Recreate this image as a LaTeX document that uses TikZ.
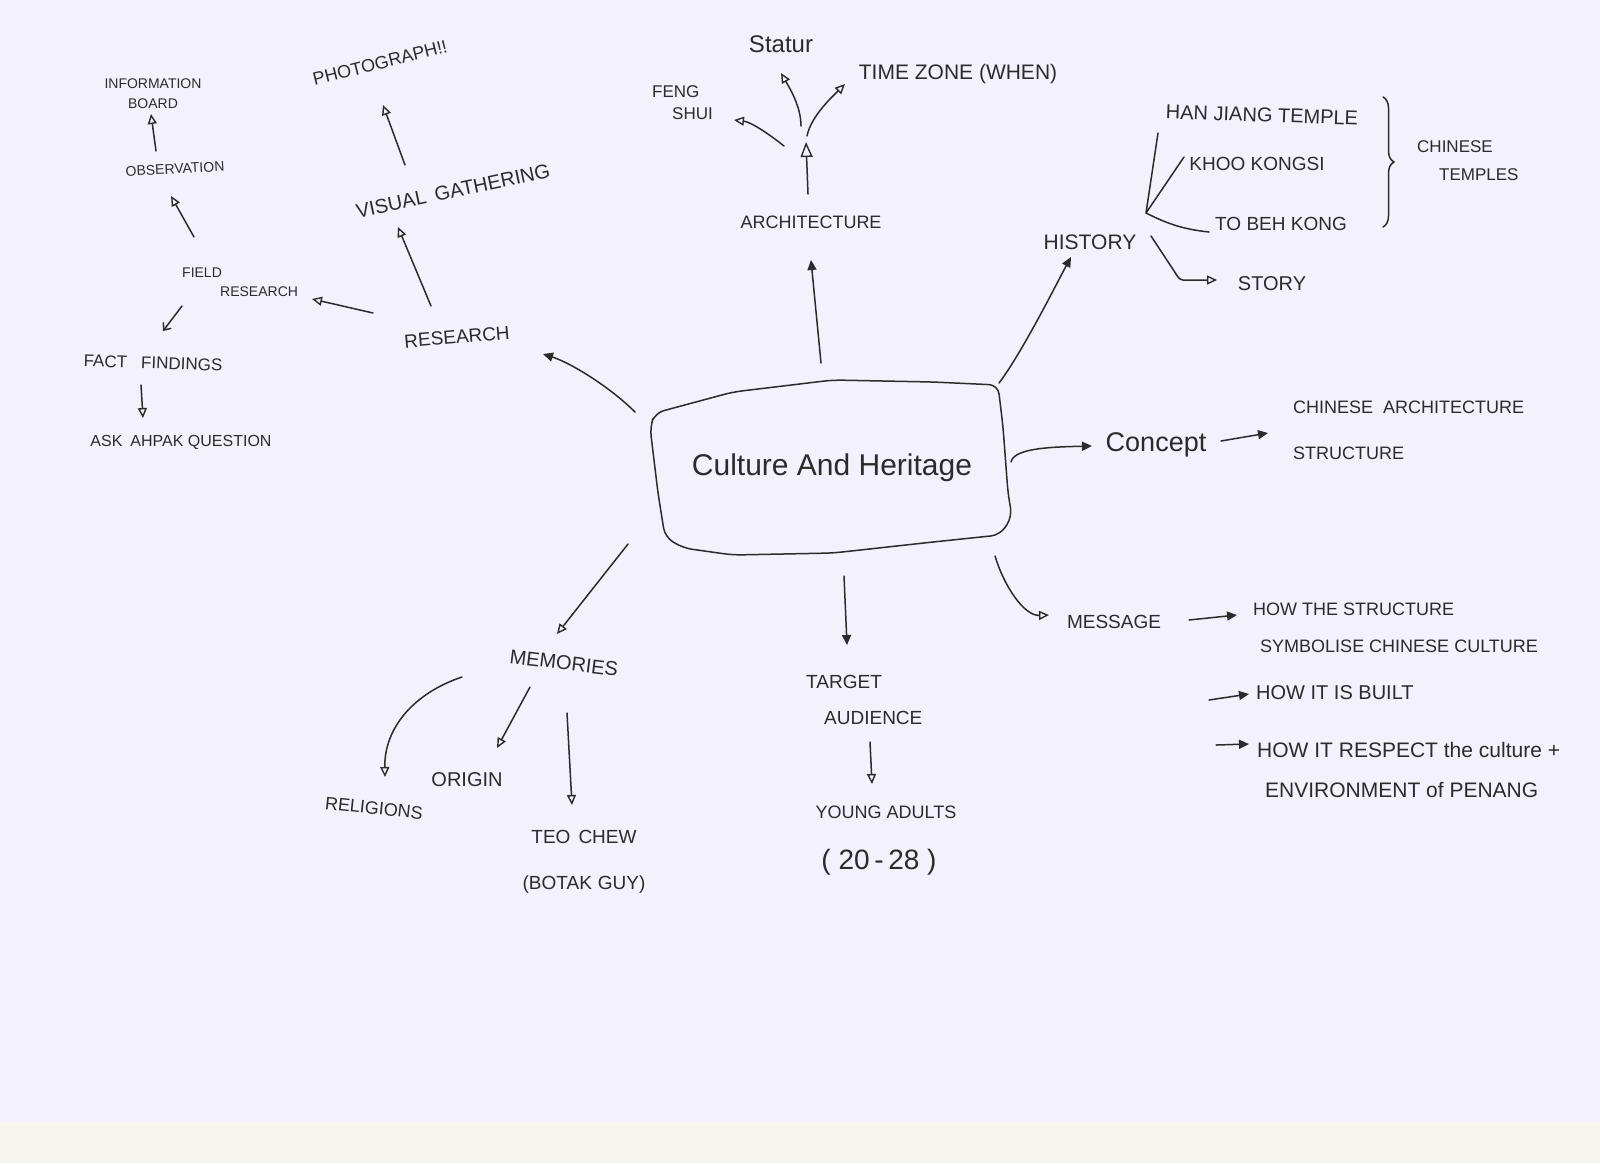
\documentclass[tikz,border=0pt]{standalone}
\usepackage{fontspec}
\setmainfont{Liberation Sans}
\usetikzlibrary{arrows.meta,calc,decorations.pathreplacing}
\definecolor{ink}{HTML}{2B2B2B}
\definecolor{paper}{HTML}{F3F1FC}
\definecolor{strip}{HTML}{F6F6EF}
\tikzset{
  ln/.style={line width=1.5pt, draw=ink, line cap=round, line join=round},
  arr/.style={ln, -{Triangle[open,length=10pt,width=9pt,line width=1.4pt]}},
  arrf/.style={ln, -{Triangle[length=10pt,width=9pt]}},
  arrv/.style={ln, -{Straight Barb[length=6pt,width=10pt]}},
  hw/.style={font=\fontsize{#1}{#1}\selectfont, text=ink, inner sep=1pt},
}
\begin{document}
\begin{tikzpicture}[x=1pt,y=-1pt]
\useasboundingbox (0,0) rectangle (1600,1163);
\fill[paper] (0,0) rectangle (1600,1122);
\fill[strip] (0,1122) rectangle (1600,1163);

% ---------- central node ----------
\node[hw=30] (main) at (832,468) {Culture And Heritage};
\draw[ln, rounded corners=9pt] (655,413) -- (733,392) -- (833,380) -- (933,382) -- (998,385)
  -- (1003,427) -- (1008,493) -- (1012,517) -- (1000,535) -- (933,542) -- (833,553)
  -- (733,555) -- (683,548) -- (665,537) -- (658,493) -- (650,427) -- cycle;

% ---------- research branch ----------
\node[hw=19, rotate=5] (research) at (457,337) {RESEARCH};
\node[hw=20, rotate=12] (vis) at (453,191) {VISUAL\hspace{9pt}GATHERING};
\node[hw=18, rotate=14] (photo) at (380,63) {PHOTOGRAPH!!};
\node[hw=14, align=left, anchor=west] (field) at (181,282) {FIELD\\[5pt]\hspace*{38pt}RESEARCH};
\node[hw=14, rotate=3] (obs) at (175,169) {OBSERVATION};
\node[hw=14, align=center] (info) at (153,94) {INFORMATION\\[6pt]BOARD};
\node[hw=17, rotate=-2] (fact) at (153,363) {FACT\hspace{14pt}FINDINGS};
\node[hw=16] (ask) at (181,442) {ASK\hspace{8pt}AHPAK QUESTION};

\draw[arrf] ($(main)+(-197,-56)$) .. controls ($(main)+(-222,-81)$) and ($(research)+(114,26)$) .. ($(research)+(86,17)$);
\draw[arr] ($(research)+(-26,-31)$) -- ($(vis)+(-55,36)$);
\draw[arr] ($(vis)+(-48,-26)$) -- ($(photo)+(3,42)$);
\draw[arr] ($(research)+(-84,-24)$) -- ($(field.west)+(131,17)$);
\draw[arr] ($(field.west)+(13,-45)$) -- ($(obs)+(-4,27)$);
\draw[arr] ($(obs)+(-19,-18)$) -- ($(info)+(-2,20)$);
\draw[arrv] ($(field.west)+(1,24)$) -- ($(fact)+(10,-32)$);
\draw[arr] ($(fact)+(-12,22)$) -- ($(ask)+(-38,-24)$);

% ---------- architecture branch ----------
\node[hw=18] (arch) at (811,222) {ARCHITECTURE};
\node[hw=24] (statur) at (781,44) {Statur};
\node[hw=17, align=left, anchor=west] (feng) at (651,103) {FENG\\[5pt]\hspace*{20pt}SHUI};
\node[hw=21] (time) at (958,74) {TIME ZONE (WHEN)};
\coordinate (hub) at (806,142);

\draw[arrf] ($(main)+(-11,-105)$) -- ($(arch)+(0,38)$);
\draw[ln, -{Triangle[open,length=15pt,width=12pt,line width=1.4pt]}] ($(arch)+(-3,-28)$) -- (hub);
\draw[arr] ($(hub)+(-22,4)$) .. controls ($(hub)+(-37,-8)$) and ($(feng.west)+(100,19)$) .. ($(feng.west)+(83,17)$);
\draw[arr] ($(hub)+(-5,-16)$) .. controls ($(hub)+(-5,-36)$) and ($(statur)+(8,43)$) .. ($(statur)+(0,29)$);
\draw[arr] ($(hub)+(1,-6)$) .. controls ($(hub)+(5,-26)$) and ($(time)+(-125,22)$) .. ($(time)+(-113,10)$);

% ---------- history branch ----------
\node[hw=21] (history) at (1090,242) {HISTORY};
\node[hw=20, rotate=-2] (han) at (1262,115) {HAN JIANG TEMPLE};
\node[hw=19] (khoo) at (1257,164) {KHOO KONGSI};
\node[hw=19] (tobeh) at (1281,224) {TO BEH KONG};
\node[hw=17, align=left, anchor=west] (chtemp) at (1416,161) {CHINESE\\[11pt]\hspace*{22pt}TEMPLES};
\node[hw=20] (story) at (1272,284) {STORY};
\coordinate (hub2) at (1146,213);

\draw[arrf] ($(main)+(167,-85)$) .. controls ($(main)+(190,-115)$) and ($(history)+(-30,35)$) .. ($(history)+(-19,15)$);
\draw[ln] ($(han)+(-104,18)$) -- (hub2) -- ($(khoo)+(-73,-7)$);
\draw[ln] (hub2) .. controls ($(hub2)+(20,10)$) and ($(tobeh)+(-100,5)$) .. ($(tobeh)+(-72,8)$);
\draw[ln, rounded corners=3pt, -{Triangle[open,length=10pt,width=9pt,line width=1.4pt]}]
  ($(history)+(61,-6)$) -- ($(story)+(-92,-4)$) -- ($(story)+(-55,-4)$);
\draw[ln, decorate, decoration={brace, amplitude=11pt}] (1383,97) -- (1383,227);

% ---------- concept branch ----------
\node[hw=27] (concept) at (1156,445) {Concept};
\node[hw=18, align=left, anchor=west] (charch) at (1292,430) {CHINESE\hspace{10pt}ARCHITECTURE\\[28pt]STRUCTURE};
\draw[arrf] ($(main)+(179,-6)$) .. controls ($(main)+(182,-20)$) and ($(concept)+(-105,2)$) .. ($(concept)+(-64,1)$);
\draw[arrf] ($(concept)+(65,-4)$) -- ($(charch.west)+(-24,3)$);

% ---------- message branch ----------
\node[hw=19] (message) at (1114,622) {MESSAGE};
\node[hw=18, align=left, anchor=west] (how1) at (1252,628) {HOW THE STRUCTURE\\[19pt]\hspace*{7pt}SYMBOLISE CHINESE CULTURE};
\node[hw=20, anchor=west] (how2) at (1255,693) {HOW IT IS BUILT};
\node[hw=21, align=left, anchor=west] (how3) at (1256,770) {HOW IT RESPECT the culture +\\[19pt]\hspace*{8pt}ENVIRONMENT of PENANG};
\coordinate (u0) at (1209,700);
\coordinate (v0) at (1216,745);

\draw[arr] ($(main)+(163,88)$) .. controls ($(main)+(172,118)$) and ($(message)+(-90,-6)$) .. ($(message)+(-65,-7)$);
\draw[arrf] ($(message)+(75,-2)$) -- ($(how1.west)+(-15,-13)$);
\draw[arrf] (u0) -- ($(how2.west)+(-6,1)$);
\draw[arrf] (v0) -- ($(how3.west)+(-7,-26)$);

% ---------- memories branch ----------
\node[hw=20, rotate=-7] (memories) at (564,663) {MEMORIES};
\node[hw=18, rotate=-6] (religions) at (374,808) {RELIGIONS};
\node[hw=20] (origin) at (467,780) {ORIGIN};
\node[hw=19, align=center] (teo) at (584,862) {TEO\hspace{8pt}CHEW\\[27pt](BOTAK\hspace{6pt}GUY)};

\draw[arr] ($(main)+(-204,76)$) -- ($(memories)+(-7,-29)$);
\draw[arr] ($(memories)+(-102,14)$) .. controls ($(memories)+(-150,30)$) and ($(religions)+(10,-80)$) .. ($(religions)+(11,-31)$);
\draw[arr] ($(memories)+(-34,24)$) -- ($(origin)+(30,-32)$);
\draw[arr] ($(memories)+(3,50)$) -- ($(teo)+(-12,-57)$);

% ---------- target audience branch ----------
\node[hw=19, align=left, anchor=west] (target) at (805,700) {TARGET\\[17pt]\hspace*{18pt}AUDIENCE};
\node[hw=18] (young) at (886,812) {YOUNG ADULTS};
\node[hw=28] (age) at (879,862) {( 20\,-\,28 )};

\draw[arrf] ($(main)+(12,108)$) -- ($(target.west)+(42,-55)$);
\draw[arr] ($(target.west)+(65,42)$) -- ($(young)+(-14,-28)$);
\end{tikzpicture}
\end{document}
